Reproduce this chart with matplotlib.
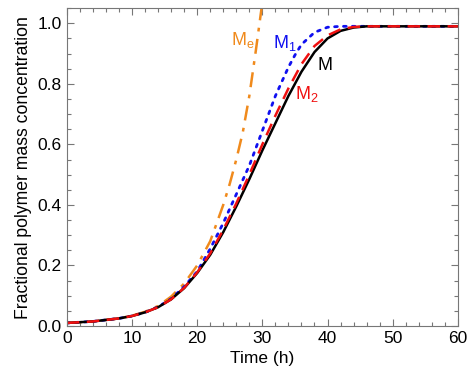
import matplotlib
matplotlib.use("Agg")
import matplotlib.pyplot as plt
from matplotlib.ticker import MultipleLocator

plt.rcParams['font.family'] = ['Liberation Sans', 'DejaVu Sans']

# time points (h) and fractional polymer mass concentration
t_m = [0, 4, 8, 10, 12, 14, 16, 18, 20, 22, 24, 26, 28, 30, 32, 34, 36, 38, 40, 42, 44, 46, 50, 60]
m = [0.01, 0.015, 0.025, 0.033, 0.045, 0.062, 0.088, 0.125, 0.175, 0.235, 0.31, 0.395,
     0.485, 0.58, 0.67, 0.76, 0.84, 0.905, 0.95, 0.975, 0.986, 0.99, 0.99, 0.99]

t_m2 = [0, 4, 8, 10, 12, 14, 16, 18, 20, 22, 24, 26, 28, 30, 32, 34, 36, 38, 40, 42, 44, 46, 50, 60]
m2 = [0.01, 0.015, 0.025, 0.033, 0.045, 0.062, 0.088, 0.126, 0.177, 0.24, 0.318, 0.405,
      0.5, 0.6, 0.695, 0.785, 0.865, 0.925, 0.96, 0.98, 0.988, 0.99, 0.99, 0.99]

t_m1 = [0, 4, 8, 10, 12, 14, 16, 18, 20, 22, 24, 26, 28, 30, 32, 34, 35, 36, 38, 40, 42, 50, 60]
m1 = [0.01, 0.015, 0.025, 0.033, 0.045, 0.063, 0.09, 0.13, 0.18, 0.255, 0.34, 0.435,
      0.53, 0.645, 0.76, 0.855, 0.895, 0.93, 0.97, 0.987, 0.99, 0.99, 0.99]

t_me = [0, 4, 8, 10, 12, 14, 16, 18, 20, 22, 24, 25, 26, 27, 28, 29, 30]
me = [0.01, 0.015, 0.025, 0.034, 0.047, 0.066, 0.097, 0.14, 0.2, 0.28, 0.4, 0.47,
      0.55, 0.64, 0.76, 0.91, 1.07]

fig = plt.figure(figsize=(4.74, 3.89), dpi=100)
ax = fig.add_axes([0.141, 0.162, 0.825, 0.817])

orange = '#F08A1C'
ax.plot(t_me, me, color=orange, lw=1.8, linestyle=(0, (6, 3, 1.5, 3)))
ax.plot(t_m1, m1, color='#1010F0', lw=2.0, linestyle=(0, (1, 2.2)), dash_capstyle='round')
ax.plot(t_m, m, color='black', lw=1.8)
ax.plot(t_m2, m2, color='#F01010', lw=1.8, linestyle=(0, (5, 3)))

ax.text(27.0, 0.944, 'M$_\\mathregular{e}$', color=orange, fontsize=13, ha='center', va='center')
ax.text(33.4, 0.935, 'M$_\\mathregular{1}$', color='#1010F0', fontsize=13, ha='center', va='center')
ax.text(39.6, 0.862, 'M', color='black', fontsize=13, ha='center', va='center')
ax.text(36.8, 0.768, 'M$_\\mathregular{2}$', color='#F01010', fontsize=13, ha='center', va='center')

ax.set_xlim(0, 60)
ax.set_ylim(0, 1.05)
ax.xaxis.set_major_locator(MultipleLocator(10))
ax.xaxis.set_minor_locator(MultipleLocator(2))
ax.yaxis.set_major_locator(MultipleLocator(0.2))
ax.yaxis.set_minor_locator(MultipleLocator(0.05))
ax.tick_params(which='both', direction='in', top=True, right=True, color='#777777', labelsize=12.5)
ax.tick_params(which='major', length=5, width=0.8)
ax.tick_params(which='minor', length=3, width=0.8)
ax.set_yticks([0, 0.2, 0.4, 0.6, 0.8, 1.0])
ax.set_yticklabels(['0.0', '0.2', '0.4', '0.6', '0.8', '1.0'])
for s in ax.spines.values():
    s.set_color('#777777')
    s.set_linewidth(0.8)

ax.set_xlabel('Time (h)', fontsize=12.5)
ax.set_ylabel('Fractional polymer mass concentration', fontsize=12.7)

fig.savefig('out.png', dpi=100)
